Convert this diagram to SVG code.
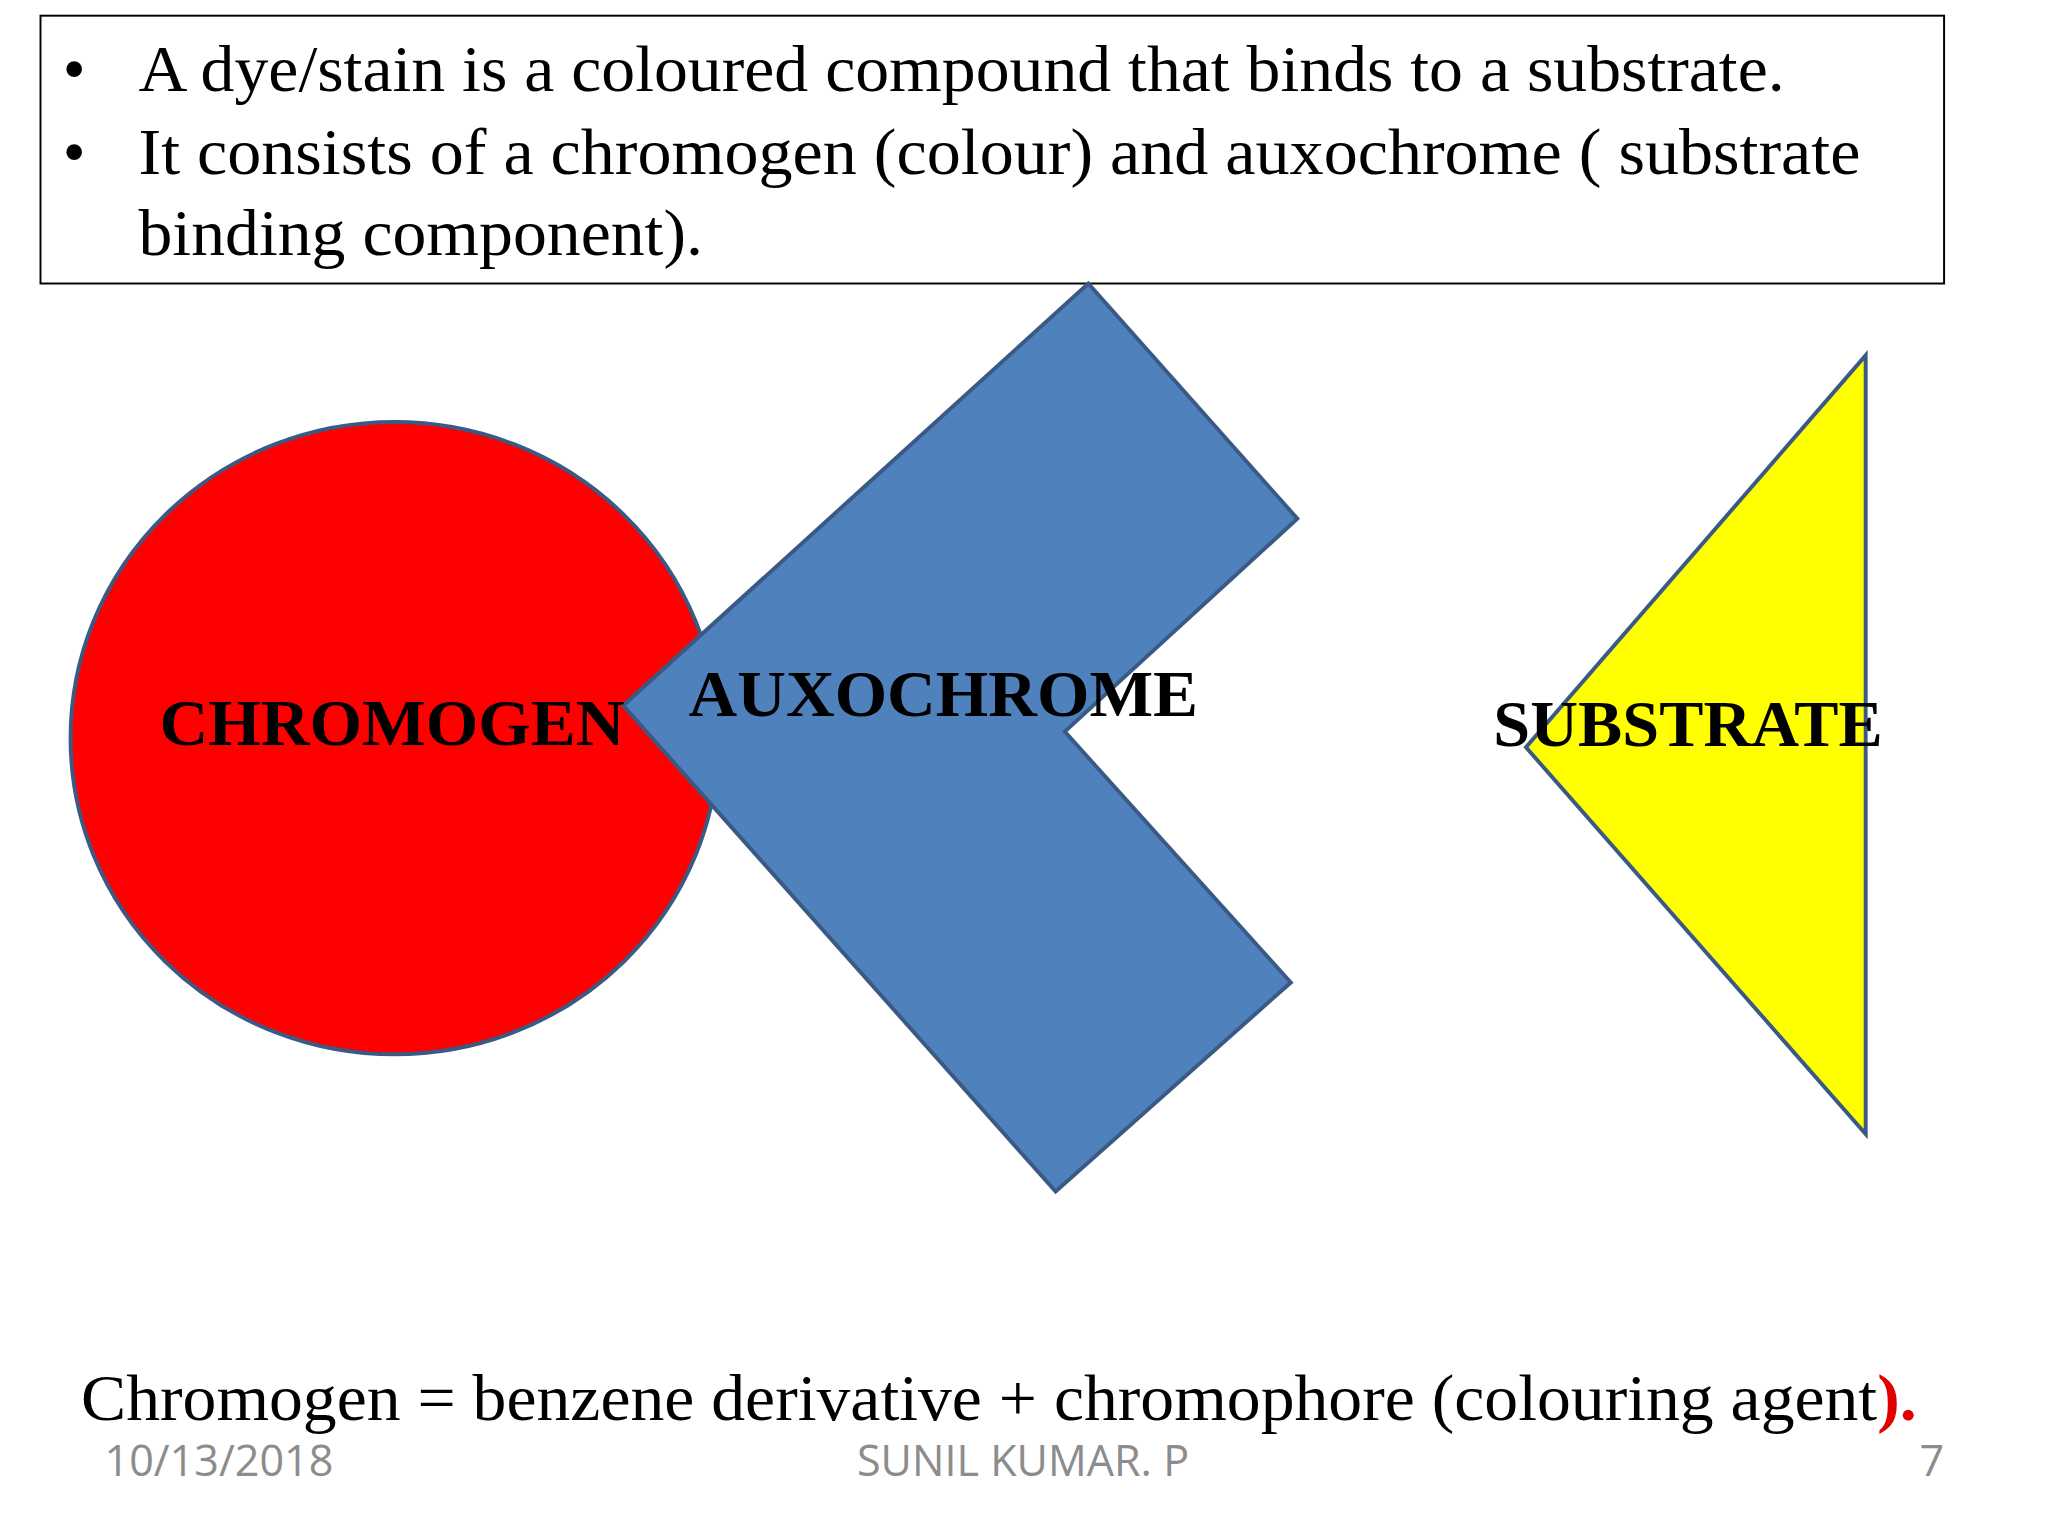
<svg xmlns="http://www.w3.org/2000/svg" width="2048" height="1536" viewBox="0 0 2048 1536">
<style>
.t{font-family:"Liberation Serif",serif;fill:#000}
.b{font-family:"Liberation Serif",serif;font-weight:bold;font-size:50px;fill:#000}
.f{font-family:"Open Sans","Liberation Sans",sans-serif;font-size:33px;fill:#8c8c8c}
.s{stroke:#3a5a85;stroke-width:3}
</style>
<rect width="2048" height="1536" fill="#fff"/>
<g transform="scale(1.3065)">
<g id="header">
<rect x="31" y="12" width="1457" height="205" fill="none" stroke="#000" stroke-width="1.5"/>
<text class="t" font-size="50" x="48" y="70">•</text>
<text class="t" font-size="50" x="106" y="70" textLength="1260" lengthAdjust="spacingAndGlyphs">A dye/stain is a coloured compound that binds to a substrate.</text>
<text class="t" font-size="50" x="48" y="133">•</text>
<text class="t" font-size="50" x="106" y="133" textLength="1318" lengthAdjust="spacingAndGlyphs">It consists of a chromogen (colour) and auxochrome ( substrate</text>
<text class="t" font-size="50" x="106" y="195" textLength="432" lengthAdjust="spacingAndGlyphs">binding component).</text>
</g>
<g id="chromogen">
<ellipse class="s" cx="302" cy="565" rx="248" ry="242" fill="#ff0000"/>
</g>
<g id="auxochrome">
<polygon class="s" points="477,540 833,217 993,397 815,560 988,752 808,912" fill="#4f81bd"/>
</g>
<g id="substrate">
<polygon class="s" points="1428,272 1428,868 1168,572" fill="#ffff00"/>
</g>
<text class="b" x="122" y="570" textLength="356" lengthAdjust="spacingAndGlyphs">CHROMOGEN</text>
<text class="b" x="527" y="548" textLength="390" lengthAdjust="spacingAndGlyphs">AUXOCHROME</text>
<text class="b" x="1143" y="571" textLength="298" lengthAdjust="spacingAndGlyphs">SUBSTRATE</text>
<g id="connectors"/>
<text class="t" font-size="50" x="62" y="1087" textLength="1405" lengthAdjust="spacingAndGlyphs">Chromogen = benzene derivative + chromophore (colouring agent<tspan fill="#e00000" font-weight="bold">).</tspan></text>
<text class="f" x="80" y="1130">10/13/2018</text>
<text class="f" x="783" y="1130" text-anchor="middle">SUNIL KUMAR. P</text>
<text class="f" x="1488" y="1130" text-anchor="end">7</text>
</g>
</svg>
